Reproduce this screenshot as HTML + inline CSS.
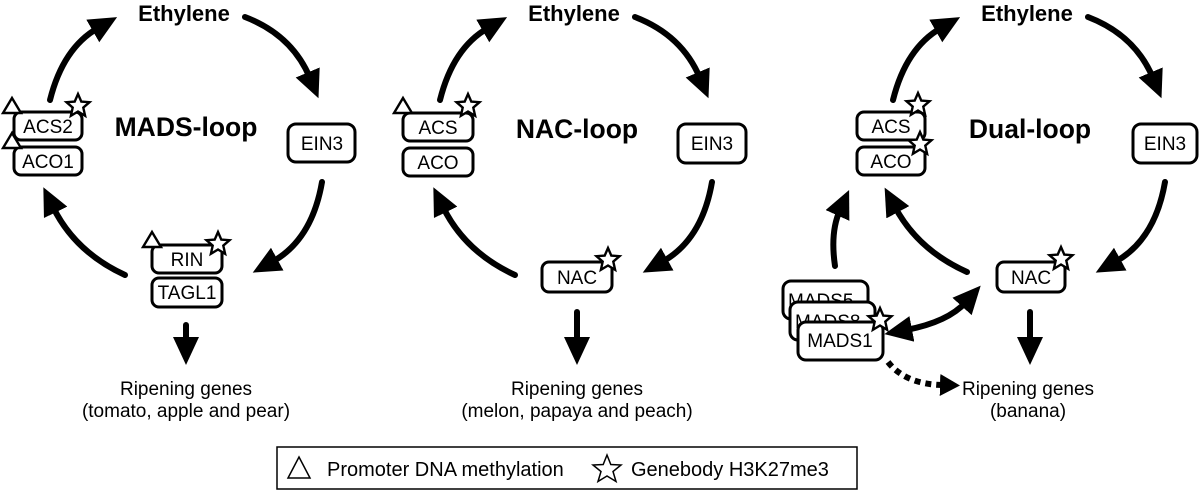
<!DOCTYPE html>
<html><head><meta charset="utf-8"><style>
html,body{margin:0;padding:0;background:#fff;width:1200px;height:492px;overflow:hidden}
svg{display:block}
text{font-family:"Liberation Sans",Arial,sans-serif;fill:#000}
.b{fill:#fff;stroke:#000;stroke-width:3}
.a{fill:none;stroke:#000;stroke-width:6;stroke-linecap:round}
.t{font-size:19px;text-anchor:middle}
.h{font-size:22px;font-weight:bold;text-anchor:middle}
.L{font-size:26.5px;font-weight:bold;text-anchor:middle}
.r{font-size:19px;text-anchor:middle}
</style></head><body>
<svg width="1200" height="492" viewBox="0 0 1200 492">
<defs>
<marker id="m" markerUnits="userSpaceOnUse" markerWidth="30" markerHeight="30" refX="6" refY="13" orient="auto">
<path d="M0,0 L28,13 L0,26 Z" fill="#000"/></marker>
<marker id="ms" markerUnits="userSpaceOnUse" markerWidth="30" markerHeight="30" refX="6" refY="13" orient="auto-start-reverse">
<path d="M0,0 L28,13 L0,26 Z" fill="#000"/></marker>
<marker id="md" markerUnits="userSpaceOnUse" markerWidth="30" markerHeight="30" refX="2" refY="11" orient="auto">
<path d="M0,0 L20,11 L0,22 Z" fill="#000"/></marker>
<g id="st"><polygon points="0,-12 3.3,-4.4 11.5,-3.8 5.3,1.6 7.1,9.8 0,5.5 -7.1,9.8 -5.3,1.6 -11.5,-3.8 -3.3,-4.4" fill="#fff" stroke="#000" stroke-width="2.4"/></g>
<g id="tr"><polygon points="0,-11 9,4 -9,4" fill="#fff" stroke="#000" stroke-width="2.4"/></g>
</defs>

<!-- Panel 1 -->
<text x="184" y="21" class="h">Ethylene</text>
<path class="a" d="M50,100 Q63,48 98,28" marker-end="url(#m)"/>
<path class="a" d="M245,17 Q292,35 310,78" marker-end="url(#m)"/>
<path class="a" d="M322,182 Q312,240 272,262" marker-end="url(#m)"/>
<path class="a" d="M125,275 Q75,252 53,207" marker-end="url(#m)"/>
<text x="186" y="136" class="L">MADS-loop</text>
<rect class="b" x="14" y="112" width="68" height="28" rx="7"/><text x="48" y="133" class="t">ACS2</text>
<rect class="b" x="14" y="147" width="68" height="28" rx="7"/><text x="48" y="168" class="t">ACO1</text>
<use href="#tr" x="12" y="109"/><use href="#tr" x="12" y="144"/><use href="#st" x="78" y="106"/>
<rect class="b" x="288" y="124" width="67" height="38" rx="8"/><text x="322" y="150" class="t">EIN3</text>
<rect class="b" x="152" y="245" width="70" height="28" rx="7"/><text x="187" y="266" class="t">RIN</text>
<rect class="b" x="152" y="278" width="70" height="29" rx="7"/><text x="187" y="299" class="t">TAGL1</text>
<use href="#tr" x="152" y="243"/><use href="#st" x="218" y="244"/>
<path class="a" d="M186,325 L186,343" marker-end="url(#m)"/>
<text x="186" y="395" class="r">Ripening genes</text>
<text x="186" y="417" class="r">(tomato, apple and pear)</text>

<!-- Panel 2 -->
<g transform="translate(390,0)">
<text x="184" y="21" class="h">Ethylene</text>
<path class="a" d="M50,100 Q63,48 98,28" marker-end="url(#m)"/>
<path class="a" d="M245,17 Q292,35 310,78" marker-end="url(#m)"/>
<path class="a" d="M322,182 Q312,240 272,262" marker-end="url(#m)"/>
<path class="a" d="M125,275 Q75,252 53,207" marker-end="url(#m)"/>
<text x="187" y="138" class="L">NAC-loop</text>
<rect class="b" x="13" y="113" width="70" height="28" rx="7"/><text x="48" y="134" class="t">ACS</text>
<rect class="b" x="13" y="148" width="70" height="28" rx="7"/><text x="48" y="169" class="t">ACO</text>
<use href="#tr" x="13" y="109"/><use href="#st" x="78" y="106"/>
<rect class="b" x="288" y="124" width="68" height="39" rx="8"/><text x="322" y="150" class="t">EIN3</text>
<rect class="b" x="152" y="262" width="70" height="30" rx="7"/><text x="187" y="284" class="t">NAC</text>
<use href="#st" x="218" y="260"/>
<path class="a" d="M187,312 L187,343" marker-end="url(#m)"/>
<text x="187" y="395" class="r">Ripening genes</text>
<text x="187" y="417" class="r">(melon, papaya and peach)</text>
</g>

<!-- Panel 3 -->
<text x="1027" y="21" class="h">Ethylene</text>
<path class="a" d="M893,100 Q906,48 941,28" marker-end="url(#m)"/>
<path class="a" d="M1088,17 Q1135,35 1153,78" marker-end="url(#m)"/>
<path class="a" d="M1165,182 Q1155,240 1115,262" marker-end="url(#m)"/>
<path class="a" d="M967,272 Q918,250 895,207" marker-end="url(#m)"/>
<path class="a" d="M835,266 Q830,232 840,210" marker-end="url(#m)"/>
<text x="1030" y="138" class="L">Dual-loop</text>
<rect class="b" x="857" y="112" width="68" height="28" rx="7"/><text x="891" y="133" class="t">ACS</text>
<rect class="b" x="857" y="147" width="68" height="28" rx="7"/><text x="891" y="168" class="t">ACO</text>
<use href="#st" x="918" y="105"/><use href="#st" x="920" y="144"/>
<rect class="b" x="1133" y="124" width="64" height="39" rx="8"/><text x="1165" y="150" class="t">EIN3</text>
<rect class="b" x="997" y="262" width="68" height="30" rx="7"/><text x="1031" y="284" class="t">NAC</text>
<use href="#st" x="1061" y="259"/>
<rect class="b" x="783" y="281" width="85" height="38" rx="8"/><text x="788" y="307" style="font-size:19px">MADS5</text>
<rect class="b" x="790" y="302" width="85" height="38" rx="8"/><text x="795" y="328" style="font-size:19px">MADS8</text>
<rect class="b" x="798" y="322" width="85" height="38" rx="8"/><text x="840" y="347" class="t">MADS1</text>
<use href="#st" x="880" y="320"/>
<path class="a" d="M906,330 Q948,322 966,302" marker-start="url(#ms)" marker-end="url(#m)"/>
<path d="M888,362 Q905,384 942,385" fill="none" stroke="#000" stroke-width="6" stroke-dasharray="6,5" marker-end="url(#md)"/>
<path class="a" d="M1030,312 L1030,343" marker-end="url(#m)"/>
<text x="1028" y="395" class="r">Ripening genes</text>
<text x="1028" y="417" class="r">(banana)</text>

<!-- Legend -->
<rect x="277" y="447" width="580" height="42" fill="#fff" stroke="#000" stroke-width="1.5"/>
<polygon points="299,457 310,478 288,478" fill="#fff" stroke="#000" stroke-width="1.5"/>
<text x="327" y="476" style="font-size:20px">Promoter DNA methylation</text>
<polygon points="607,455 610.8,464.5 621,465 613,471.5 616,481.5 607,476 598,481.5 601,471.5 593,465 603.2,464.5" fill="#fff" stroke="#000" stroke-width="1.5"/>
<text x="631" y="476" style="font-size:20px">Genebody H3K27me3</text>
</svg>
</body></html>
